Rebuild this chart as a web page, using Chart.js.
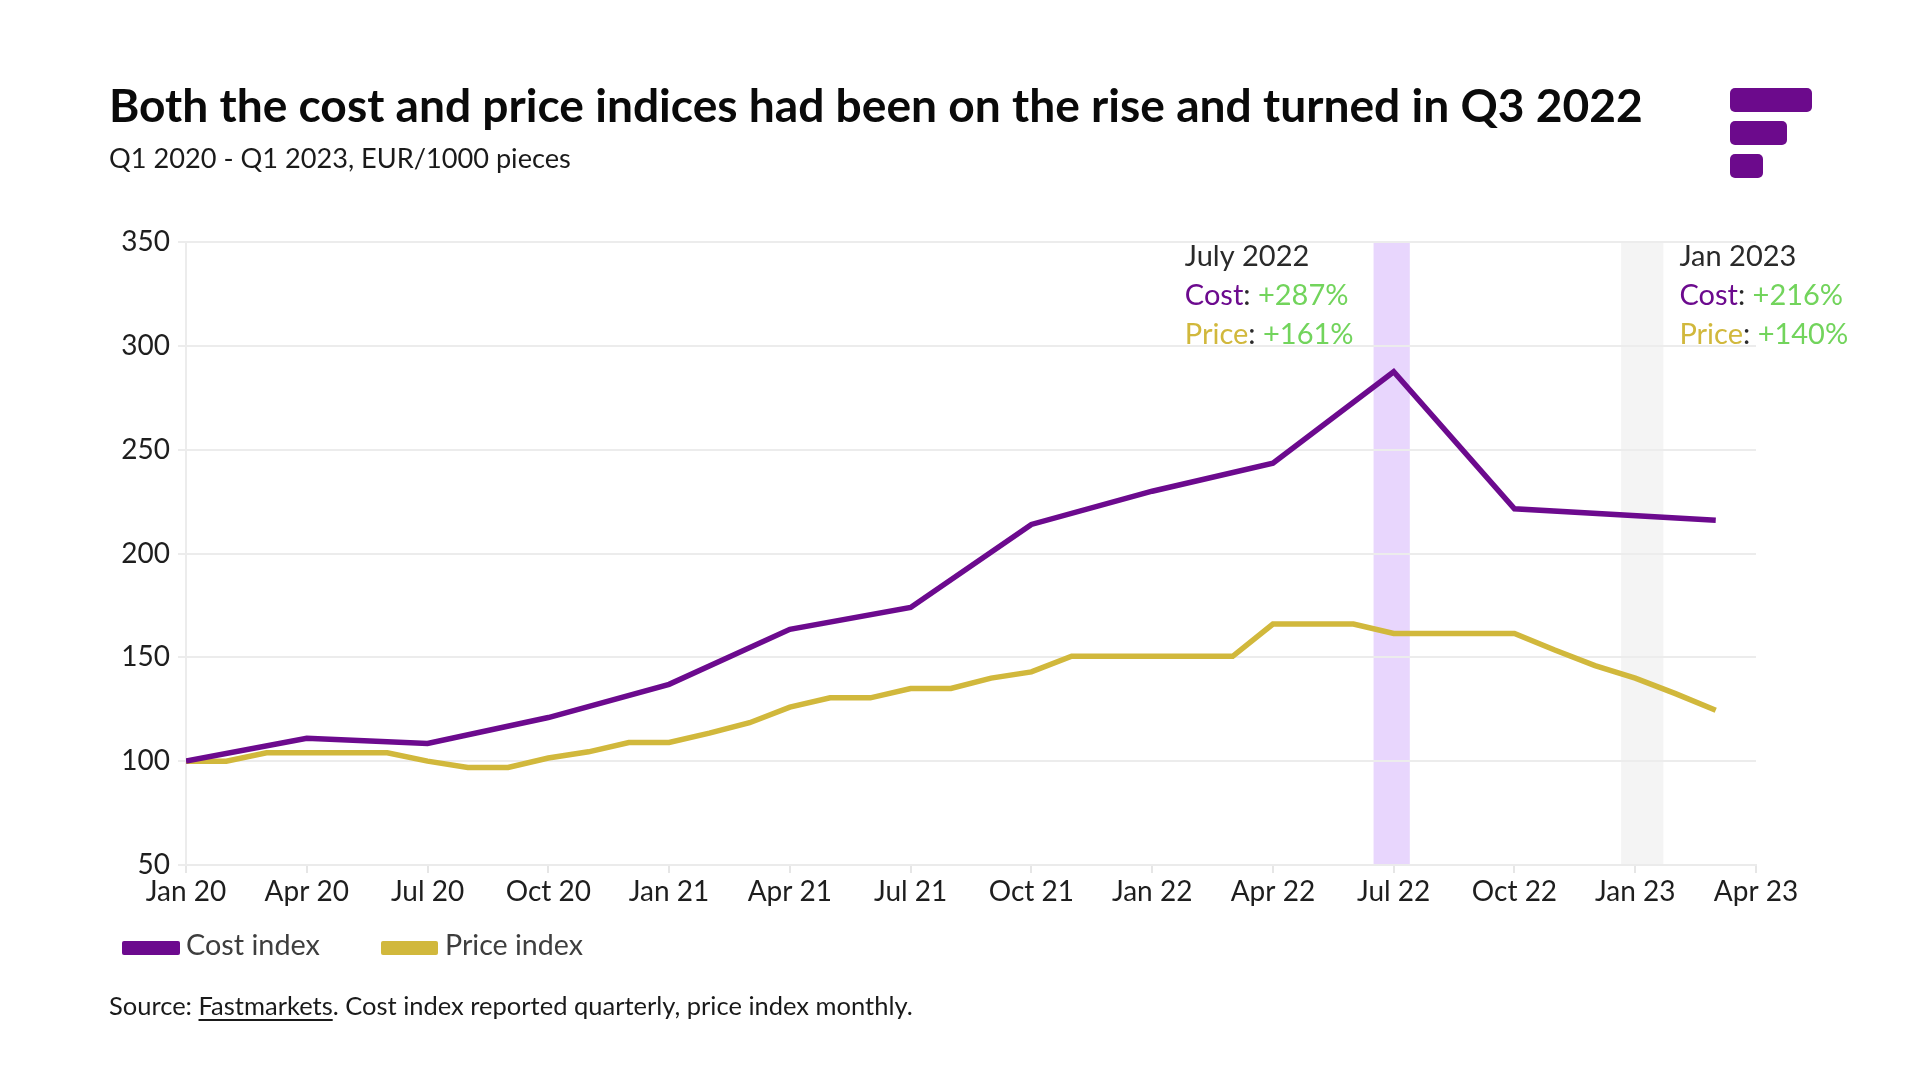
<!DOCTYPE html>
<html>
<head>
<meta charset="utf-8">
<script src="https://cdn.jsdelivr.net/npm/chart.js@4.4.1/dist/chart.umd.min.js"></script>
<style>
  html, body { margin:0; padding:0; background:#fff; }
  body { width:1920px; height:1080px; position:relative; overflow:hidden; font-family: Lato, "Noto Sans", sans-serif; }
  #c { position:absolute; left:0; top:0; }
  .txt { position:absolute; white-space:nowrap; line-height:1; }
  .logo { position:absolute; background:#6c0a8c; border-radius:5px; }
  .sw { position:absolute; border-radius:2px; }
</style>
</head>
<body>
<canvas id="c" width="1920" height="1080"></canvas>
<div id="title" class="txt" style="font-weight:700;color:#0a0a0a;font-size:36px;">Both the cost and price indices had been on the rise and turned in Q3 2022</div>
<div id="subtitle" class="txt" style="font-weight:400;color:#1a1a1a;font-size:24px;">Q1 2020 - Q1 2023, EUR/1000 pieces</div>
<div class="logo" style="left:1730px;top:88px;width:82px;height:24px;"></div>
<div class="logo" style="left:1730px;top:121px;width:57px;height:24px;"></div>
<div class="logo" style="left:1730px;top:154px;width:33px;height:24px;"></div>
<div id="source" class="txt" style="font-weight:400;color:#1a1a1a;font-size:23px;">Source: <span style="text-decoration:underline;text-underline-offset:4px;text-decoration-thickness:2px;">Fastmarkets</span>. Cost index reported quarterly, price index monthly.</div>
<div id="legend"></div>
<script>
// ---------------- data ----------------
const tickLabels = ['Jan 20','Apr 20','Jul 20','Oct 20','Jan 21','Apr 21','Jul 21','Oct 21','Jan 22','Apr 22','Jul 22','Oct 22','Jan 23','Apr 23'];
const seriesNames = ['Cost index', 'Price index'];
// months since Jan 2020
const costMonths = [0, 3, 6, 9, 12, 15, 18, 21, 24, 27, 30, 33, 38];
const costValues = [100, 111, 108.5, 121, 137, 163.5, 174, 214, 230, 243.5, 287.5, 221.5, 216];
const priceMonths = [0,1,2,3,4,5,6,7,8,9,10,11,12,13,14,15,16,17,18,19,20,21,22,23,24,25,26,27,28,29,30,31,32,33,34,35,36,37,38];
const priceValues = [100,100,104,104,104,104,100,97,97,101.5,104.5,109,109,113.5,118.5,126,130.5,130.5,135,135,140,143,150.5,150.5,150.5,150.5,150.5,166,166,166,161.5,161.5,161.5,161.5,153.5,146,140,132.5,124.5];
const yTicks = [50, 100, 150, 200, 250, 300, 350];
// highlight bands (month ranges)
const bandJuly = [29.5, 30.4];
const bandJan = [35.65, 36.7];
const annotJuly = { date: 'July 2022', cost: '+287%', price: '+161%' };
const annotJan = { date: 'Jan 2023', cost: '+216%', price: '+140%' };

const PURPLE = '#6c0a8e';
const YELLOW = '#d1b83c';
const GREEN = '#72d45c';
const colors = [PURPLE, YELLOW];

// ---------------- chart ----------------
const bandsPlugin = {
  id: 'bands',
  beforeDraw(chart) {
    const {ctx, chartArea, scales:{x}} = chart;
    ctx.save();
    ctx.fillStyle = '#e8d6fd';
    let a = x.getPixelForValue(bandJuly[0]), b = x.getPixelForValue(bandJuly[1]);
    ctx.fillRect(a, chartArea.top, b - a, chartArea.bottom - chartArea.top);
    ctx.fillStyle = '#f4f4f4';
    a = x.getPixelForValue(bandJan[0]); b = x.getPixelForValue(bandJan[1]);
    ctx.fillRect(a, chartArea.top, b - a, chartArea.bottom - chartArea.top);
    ctx.restore();
  },
  afterDraw(chart) {
    const {ctx, chartArea, scales:{x}} = chart;
    ctx.save();
    ctx.font = '400 29px Lato';
    ctx.textBaseline = 'alphabetic';
    function block(ann) {
      const l1 = ctx.measureText(ann.date).width;
      const l2 = ctx.measureText('Cost: ' + ann.cost).width;
      const l3 = ctx.measureText('Price: ' + ann.price).width;
      return Math.max(l1, l2, l3);
    }
    function drawSeg(parts, x0, y) {
      let xx = x0;
      for (const [t, c] of parts) {
        ctx.fillStyle = c;
        ctx.fillText(t, xx, y);
        xx += ctx.measureText(t).width;
      }
    }
    function drawAnn(ann, x0) {
      const t = chartArea.top;
      drawSeg([[ann.date, '#2a2a2a']], x0, t + 24);
      drawSeg([['Cost', PURPLE], [':', '#2a2a2a'], [' ' + ann.cost, GREEN]], x0, t + 63);
      drawSeg([['Price', YELLOW], [':', '#2a2a2a'], [' ' + ann.price, GREEN]], x0, t + 102);
    }
    const jl = x.getPixelForValue(bandJuly[0]);
    drawAnn(annotJuly, jl - 20 - block(annotJuly));
    const gr = x.getPixelForValue(bandJan[1]);
    drawAnn(annotJan, gr + 16);
    ctx.restore();
  }
};

const ctx = document.getElementById('c').getContext('2d');
new Chart(ctx, {
  type: 'line',
  data: {
    datasets: [
      { label: seriesNames[0], data: costMonths.map((m, i) => ({x: m, y: costValues[i]})), borderColor: PURPLE, backgroundColor: PURPLE, borderWidth: 5.5, pointRadius: 0, tension: 0, borderJoinStyle: 'miter', borderCapStyle: 'butt' },
      { label: seriesNames[1], data: priceMonths.map((m, i) => ({x: m, y: priceValues[i]})), borderColor: YELLOW, backgroundColor: YELLOW, borderWidth: 5.5, pointRadius: 0, tension: 0, borderJoinStyle: 'miter', borderCapStyle: 'butt' }
    ]
  },
  options: {
    responsive: false,
    animation: false,
    devicePixelRatio: 1,
    layout: { padding: { left: 0, top: 242, right: 164, bottom: 0 } },
    plugins: { legend: { display: false }, tooltip: { enabled: false }, title: { display: false } },
    scales: {
      x: {
        type: 'linear', min: 0, max: 39,
        afterFit(s) { s.height = 215; },
        afterBuildTicks(s) { s.ticks = tickLabels.map((_, i) => ({ value: i * 3 })); },
        ticks: { autoSkip: false, maxRotation: 0, padding: 2, color: '#1e1e1e', font: { family: 'Lato', size: 28 }, callback: (v) => tickLabels[Math.round(v / 3)] },
        grid: { drawOnChartArea: false, drawTicks: true, tickLength: 8, tickColor: '#e6e6e6', lineWidth: 2 },
        border: { display: true, color: '#ebebeb', width: 2 }
      },
      y: {
        min: 50, max: 350,
        afterFit(s) { s.width = 186; },
        afterBuildTicks(s) { s.ticks = yTicks.map(v => ({ value: v })); },
        ticks: { padding: 8, color: '#1e1e1e', font: { family: 'Lato', size: 28 } },
        grid: { color: '#ececec', lineWidth: 2, tickLength: 8, tickColor: '#ececec' },
        border: { display: true, color: '#ececec', width: 2 }
      }
    }
  },
  plugins: [bandsPlugin]
});

// ---------------- HTML text layout ----------------
function place(el, left, baseline, width) {
  el.style.left = left + 'px';
  el.style.top = '0px';
  if (width) {
    const fs = parseFloat(el.style.fontSize);
    const w = el.getBoundingClientRect().width;
    el.style.fontSize = (fs * width / w).toFixed(2) + 'px';
  }
  const m = document.createElement('span');
  m.style.cssText = 'display:inline-block;width:0;height:0;vertical-align:baseline;';
  el.appendChild(m);
  const off = m.getBoundingClientRect().top - el.getBoundingClientRect().top;
  el.removeChild(m);
  el.style.top = (baseline - off) + 'px';
}
place(document.getElementById('title'), 109, 122, 1534);
place(document.getElementById('subtitle'), 109, 168, 462);
place(document.getElementById('source'), 109, 1015, 804);

// legend
const legendPos = [ {sw: 122, swW: 58, tx: 186, tw: 134}, {sw: 381, swW: 57, tx: 445, tw: 138} ];
const lg = document.getElementById('legend');
seriesNames.forEach((n, i) => {
  const s = document.createElement('div');
  s.className = 'sw';
  s.style.cssText += `left:${legendPos[i].sw}px;top:941px;width:${legendPos[i].swW}px;height:14px;background:${colors[i]};`;
  lg.appendChild(s);
  const t = document.createElement('div');
  t.className = 'txt';
  t.style.cssText += 'font-size:27px;color:#3e3e3e;font-weight:400;';
  t.textContent = n;
  lg.appendChild(t);
  place(t, legendPos[i].tx, 955, legendPos[i].tw);
});
</script>
</body>
</html>
